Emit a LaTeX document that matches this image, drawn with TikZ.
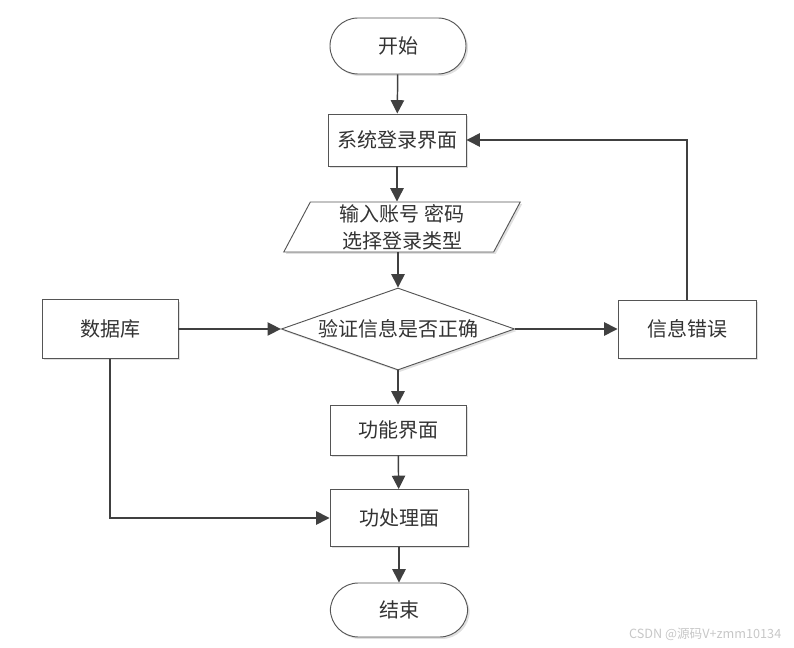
\documentclass[tikz,border=0pt]{standalone}
\usepackage{fontspec}
\newfontfamily\cjk{Noto Sans CJK SC}
\usetikzlibrary{shapes.geometric,arrows.meta,shadows}
\definecolor{edge}{HTML}{555555}
\definecolor{arr}{HTML}{404040}
\definecolor{txt}{HTML}{333333}
\tikzset{
  base/.style={draw=edge, line width=0.7pt, fill=white, text=txt, font=\cjk\fontsize{15}{18}\selectfont,
    drop shadow={shadow xshift=1.5pt, shadow yshift=-1.5pt, fill=black!12, opacity=1}},
  boxnode/.style={base, rectangle, minimum width=103.5pt, minimum height=39pt},
  termnode/.style={base, rounded corners=21pt, minimum width=102pt, minimum height=42pt},
  ionode/.style={base, trapezium, trapezium left angle=62, trapezium right angle=118, minimum height=37.5pt, minimum width=177pt, align=center, inner xsep=1pt, inner ysep=-4pt},
  decnode/.style={base, diamond, aspect=2.84, minimum width=175pt, minimum height=61.5pt, inner sep=0pt},
  flow/.style={draw=arr, line width=1.1pt, -{Triangle[length=10pt,width=10pt]}}
}
\begin{document}
\begin{tikzpicture}[x=0.75pt,y=-0.75pt]
\useasboundingbox (0,0) rectangle (794,648);
\node[termnode] (start) at (398,46) {开始};
\node[boxnode] (login) at (397,140) {系统登录界面};
\node[ionode] (input) at (402,227) {输入账号 密码\\[2pt]选择登录类型};
\node[decnode] (check) at (398,329) {验证信息是否正确};
\node[boxnode, minimum width=102pt, minimum height=44pt] (db) at (110,329) {数据库};
\node[boxnode, minimum width=103.5pt, minimum height=43.5pt] (err) at (687,329) {信息错误};
\node[boxnode, minimum width=102pt, minimum height=37.5pt] (func) at (398,430) {功能界面};
\node[boxnode, minimum width=103.5pt, minimum height=42.75pt] (proc) at (399,518) {功处理面};
\node[termnode, minimum width=103pt, minimum height=40.5pt] (end) at (399,610) {结束};
\coordinate (errtop) at (687,140);
\coordinate (dbcorner) at (110,518);
\draw[flow] (start) -- (login);
\draw[flow] (login) -- (login |- input.north);
\draw[flow] (input.south -| check.north) -- (check.north);
\draw[flow] (db) -- (check);
\draw[flow] (check) -- (err);
\draw[flow] (err.north) -- (errtop) -- (login.east);
\draw[flow] (check) -- (func);
\draw[flow] (func) -- (proc);
\draw[flow] (db.south) -- (dbcorner) -- (proc.west);
\draw[flow] (proc) -- (end);
\node[text=black!22, font=\cjk\fontsize{9.5}{11}\selectfont, anchor=east] (wm) at (786,634) {CSDN @源码V+zmm10134};
\end{tikzpicture}
\end{document}
